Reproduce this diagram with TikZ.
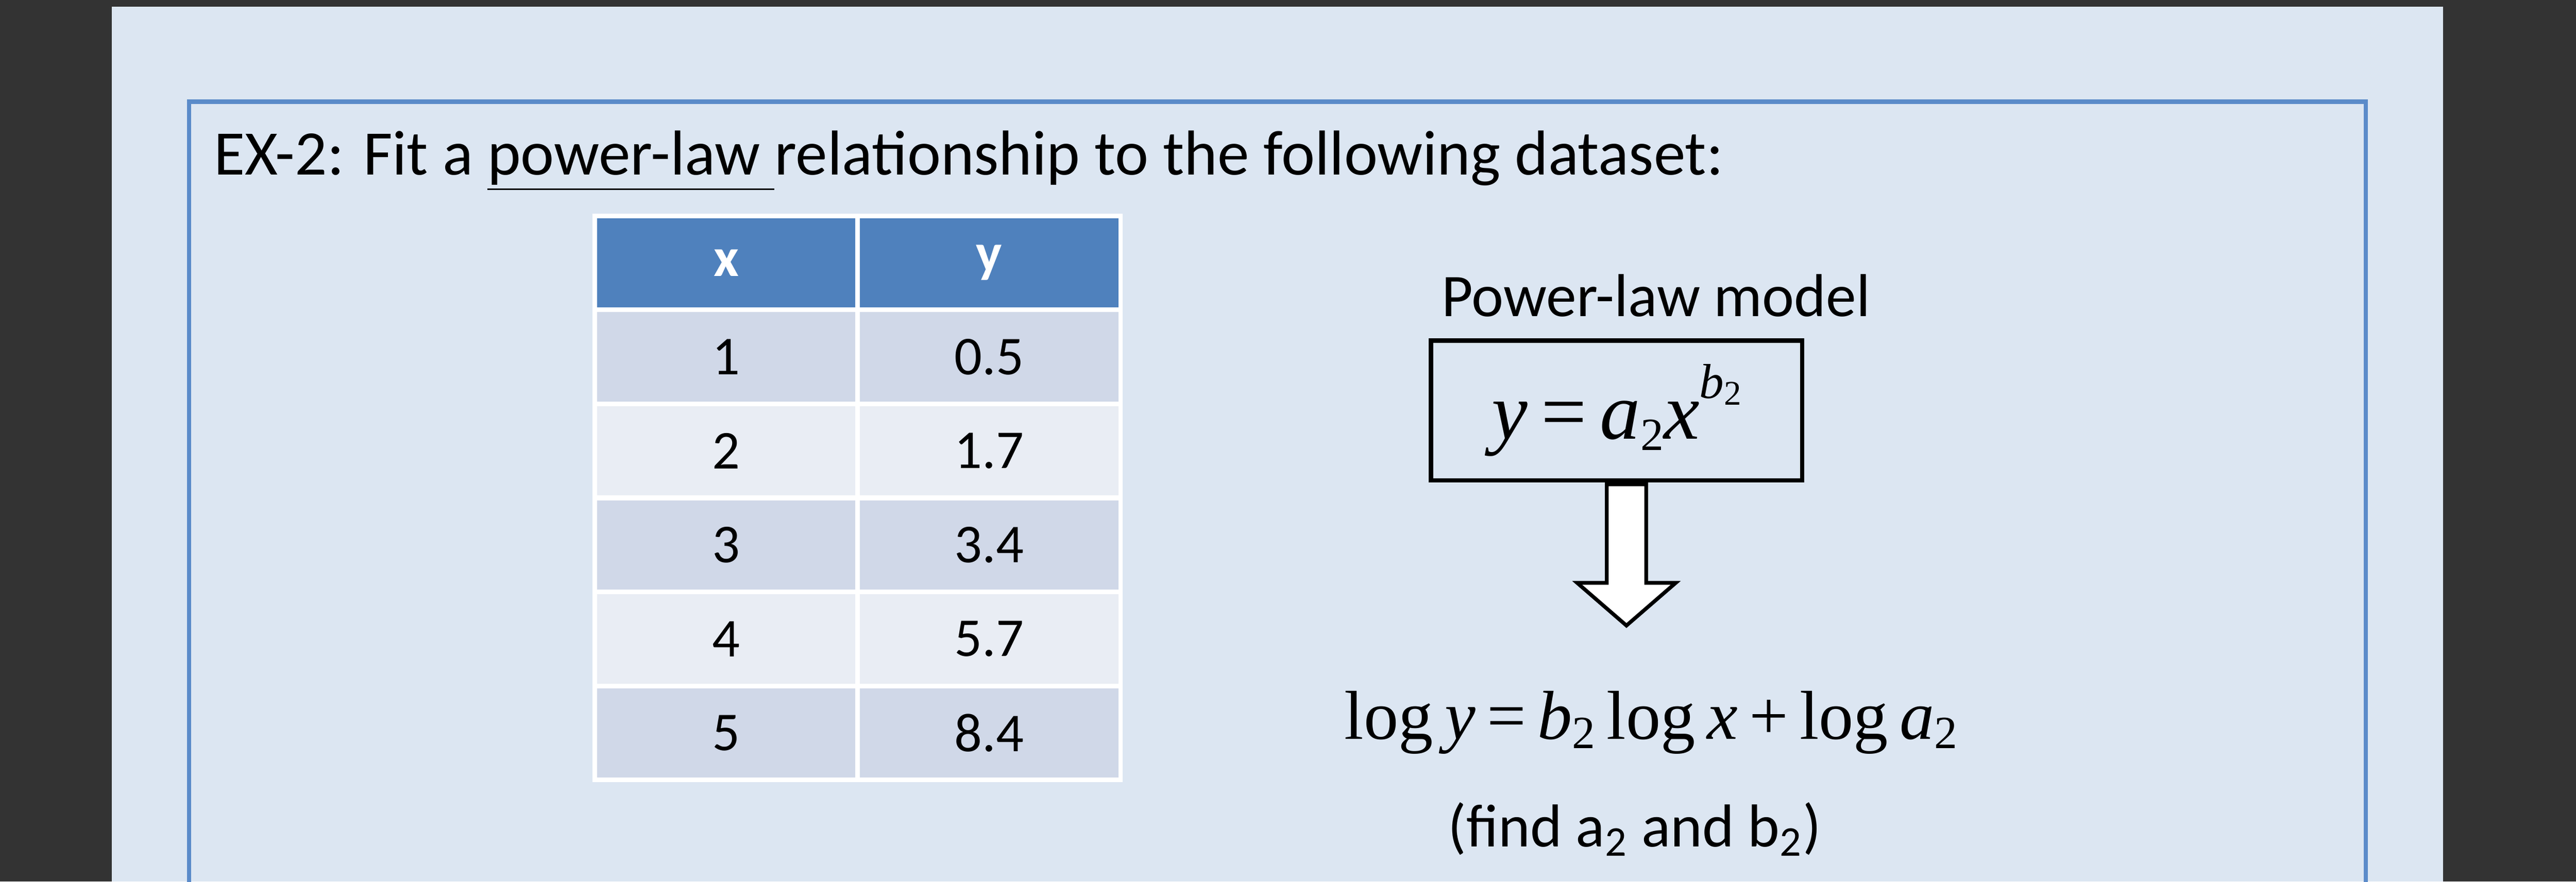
\documentclass[tikz,border=0pt]{standalone}
\usepackage{fontspec}
\setmainfont{Carlito}
\newfontfamily\serifrm{Liberation Serif}
\definecolor{darkside}{HTML}{333333}
\definecolor{bgblue}{HTML}{DCE6F2}
\definecolor{framecol}{HTML}{5B8BC9}
\definecolor{headcol}{HTML}{4F81BD}
\definecolor{rowdark}{HTML}{D0D8E8}
\definecolor{rowlight}{HTML}{E9EDF4}
\newcommand{\vi}[1]{{\itshape #1}}
\newcommand{\sbx}[1]{\raisebox{-0.3ex}{\fontsize{16}{20}\selectfont #1}}
\newcommand{\spx}[1]{\raisebox{1.1ex}{\fontsize{17}{20}\selectfont #1}}
\tikzset{cell/.style={draw=white,line width=1.5pt,minimum width=160*0.02cm,minimum height=57*0.02cm,inner sep=0pt,font=\fontsize{19}{22}\selectfont},
 plain/.style={inner sep=0pt,font=\fontsize{21}{25}\selectfont}}
\begin{document}
\begin{tikzpicture}[x=0.02cm,y=-0.02cm]
\useasboundingbox (0,0) rectangle (1568,537);
\fill[darkside] (0,0) rectangle (1568,537);
\fill[bgblue] (68,4) rectangle (1487,537);
\draw[framecol,line width=1.5pt] (115,540) -- (115,62) -- (1440,62) -- (1440,540);
\node[plain,anchor=west,font=\fontsize{22}{26}\selectfont] (title) at (130,98) {EX-2: Fit a \underline{power-law }relationship to the following dataset:};
% table
\node[cell,fill=headcol,text=white,font=\fontsize{19}{22}\bfseries] (h1) at (442,160) {x};
\node[cell,fill=headcol,text=white,font=\fontsize{19}{22}\bfseries] (h2) at (602,160) {y};
\foreach \i/\a/\b/\c in {1/1/0.5/rowdark,2/2/1.7/rowlight,3/3/3.4/rowdark,4/4/5.7/rowlight,5/5/8.4/rowdark}{
 \node[cell,fill=\c] (a\i) at (442,160+57.3*\i) {\a};
 \node[cell,fill=\c] (b\i) at (602,160+57.3*\i) {\b};
}
\node[plain] (plm) at (1008,180) {Power-law model};
\node[draw,line width=1.5pt,minimum width=226*0.02cm,minimum height=85*0.02cm,inner sep=0pt] (eq) at (984,250) {\serifrm\fontsize{28}{30}\selectfont\vi{y}\,=\,\vi{a}\sbx{2}\vi{x}\spx{\vi{b}\raisebox{-0.3ex}{\fontsize{12}{14}\selectfont 2}}};
\draw[line width=1.3pt,fill=white] (978,295) -- (1002,295) -- (1002,355) -- (1020,355) -- (990,381) -- (960,355) -- (978,355) -- cycle;
\node[inner sep=0pt] (log) at (1005,440) {\serifrm\fontsize{24}{28}\selectfont log\,\vi{y}\,=\,\vi{b}\sbx{2}\,log\,\vi{x}\,+\,log\,\vi{a}\sbx{2}};
\node[plain] (find) at (995,505) {(find a\textsubscript{2} and b\textsubscript{2})};
\end{tikzpicture}
\end{document}
